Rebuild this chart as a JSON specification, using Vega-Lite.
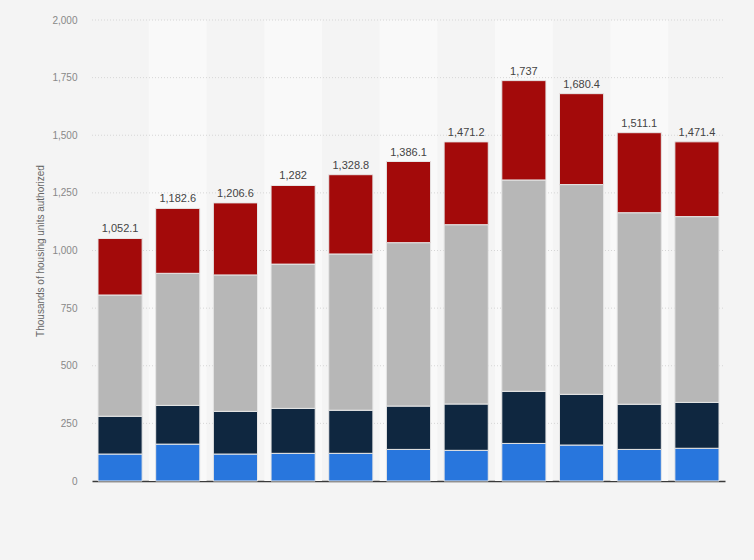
{
  "$schema": "https://vega.github.io/schema/vega-lite/v6.json",
  "width": 633,
  "height": 461,
  "autosize": {"type": "none"},
  "padding": {"left": 92, "top": 20, "right": 29, "bottom": 79},
  "background": "#f4f4f4",
  "config": {
    "view": {"stroke": null},
    "font": "Liberation Sans"
  },
  "datasets": {
    "regions": [
      {"year": 2014, "region": "Northeast", "rank": 1, "value": 117},
      {"year": 2014, "region": "Midwest", "rank": 2, "value": 164},
      {"year": 2014, "region": "South", "rank": 3, "value": 526},
      {"year": 2014, "region": "West", "rank": 4, "value": 245.1},
      {"year": 2015, "region": "Northeast", "rank": 1, "value": 160},
      {"year": 2015, "region": "Midwest", "rank": 2, "value": 168},
      {"year": 2015, "region": "South", "rank": 3, "value": 573},
      {"year": 2015, "region": "West", "rank": 4, "value": 281.6},
      {"year": 2016, "region": "Northeast", "rank": 1, "value": 117},
      {"year": 2016, "region": "Midwest", "rank": 2, "value": 185},
      {"year": 2016, "region": "South", "rank": 3, "value": 592},
      {"year": 2016, "region": "West", "rank": 4, "value": 312.6},
      {"year": 2017, "region": "Northeast", "rank": 1, "value": 120},
      {"year": 2017, "region": "Midwest", "rank": 2, "value": 195},
      {"year": 2017, "region": "South", "rank": 3, "value": 626},
      {"year": 2017, "region": "West", "rank": 4, "value": 341},
      {"year": 2018, "region": "Northeast", "rank": 1, "value": 120},
      {"year": 2018, "region": "Midwest", "rank": 2, "value": 187},
      {"year": 2018, "region": "South", "rank": 3, "value": 678},
      {"year": 2018, "region": "West", "rank": 4, "value": 343.8},
      {"year": 2019, "region": "Northeast", "rank": 1, "value": 137},
      {"year": 2019, "region": "Midwest", "rank": 2, "value": 188},
      {"year": 2019, "region": "South", "rank": 3, "value": 709},
      {"year": 2019, "region": "West", "rank": 4, "value": 352.1},
      {"year": 2020, "region": "Northeast", "rank": 1, "value": 133},
      {"year": 2020, "region": "Midwest", "rank": 2, "value": 201},
      {"year": 2020, "region": "South", "rank": 3, "value": 778},
      {"year": 2020, "region": "West", "rank": 4, "value": 359.2},
      {"year": 2021, "region": "Northeast", "rank": 1, "value": 163},
      {"year": 2021, "region": "Midwest", "rank": 2, "value": 226},
      {"year": 2021, "region": "South", "rank": 3, "value": 917},
      {"year": 2021, "region": "West", "rank": 4, "value": 431},
      {"year": 2022, "region": "Northeast", "rank": 1, "value": 156},
      {"year": 2022, "region": "Midwest", "rank": 2, "value": 220},
      {"year": 2022, "region": "South", "rank": 3, "value": 910},
      {"year": 2022, "region": "West", "rank": 4, "value": 394.4},
      {"year": 2023, "region": "Northeast", "rank": 1, "value": 137},
      {"year": 2023, "region": "Midwest", "rank": 2, "value": 196},
      {"year": 2023, "region": "South", "rank": 3, "value": 831},
      {"year": 2023, "region": "West", "rank": 4, "value": 347.1},
      {"year": 2024, "region": "Northeast", "rank": 1, "value": 142},
      {"year": 2024, "region": "Midwest", "rank": 2, "value": 199},
      {"year": 2024, "region": "South", "rank": 3, "value": 806},
      {"year": 2024, "region": "West", "rank": 4, "value": 324.4}
    ],
    "totals": [
      {"year": 2014, "total": 1052.1},
      {"year": 2015, "total": 1182.6},
      {"year": 2016, "total": 1206.6},
      {"year": 2017, "total": 1282},
      {"year": 2018, "total": 1328.8},
      {"year": 2019, "total": 1386.1},
      {"year": 2020, "total": 1471.2},
      {"year": 2021, "total": 1737},
      {"year": 2022, "total": 1680.4},
      {"year": 2023, "total": 1511.1},
      {"year": 2024, "total": 1471.4}
    ],
    "ticks": [
      {"tick": 250}, {"tick": 500}, {"tick": 750}, {"tick": 1000},
      {"tick": 1250}, {"tick": 1500}, {"tick": 1750}, {"tick": 2000}
    ]
  },
  "encoding": {
    "x": {
      "field": "year",
      "type": "ordinal",
      "scale": {"paddingInner": 0.235, "paddingOuter": 0.104},
      "axis": {
        "title": null,
        "labels": false,
        "ticks": false,
        "domainColor": "#3a3a3a",
        "domainWidth": 1.5
      }
    }
  },
  "layer": [
    {
      "data": {"name": "totals"},
      "transform": [{"filter": "datum.year % 2 == 1"}],
      "mark": {"type": "bar", "color": "#f9f9f9", "width": {"band": 1.307}},
      "encoding": {
        "y": {"datum": 2000, "type": "quantitative"},
        "y2": {"datum": 0}
      }
    },
    {
      "data": {"name": "ticks"},
      "mark": {"type": "rule", "color": "#d6d6d6", "strokeDash": [1, 2], "strokeWidth": 1},
      "encoding": {
        "y": {"field": "tick", "type": "quantitative"},
        "x": {"value": 0},
        "x2": {"value": 633}
      }
    },
    {
      "data": {"name": "regions"},
      "mark": {"type": "bar", "stroke": "#e6e6e6", "strokeWidth": 1},
      "encoding": {
        "y": {
          "field": "value",
          "type": "quantitative",
          "stack": "zero",
          "scale": {"domain": [0, 2000]},
          "axis": {
            "title": "Thousands of housing units authorized",
            "titleFontSize": 10,
            "titleFontWeight": "normal",
            "titleColor": "#666666",
            "titlePadding": 6,
            "values": [0, 250, 500, 750, 1000, 1250, 1500, 1750, 2000],
            "format": ",d",
            "labelFontSize": 10,
            "labelColor": "#888888",
            "labelPadding": 15,
            "ticks": false,
            "domain": false,
            "grid": false
          }
        },
        "color": {
          "field": "region",
          "type": "nominal",
          "scale": {
            "domain": ["Northeast", "Midwest", "South", "West"],
            "range": ["#2876dd", "#0f2740", "#b7b7b7", "#a30a0a"]
          },
          "legend": null
        },
        "order": {"field": "rank", "type": "quantitative", "sort": "ascending"}
      }
    },
    {
      "data": {"name": "totals"},
      "mark": {"type": "text", "dy": -9, "fontSize": 11, "color": "#444444"},
      "encoding": {
        "y": {"field": "total", "type": "quantitative"},
        "text": {"field": "total", "type": "quantitative", "format": ","}
      }
    }
  ]
}
